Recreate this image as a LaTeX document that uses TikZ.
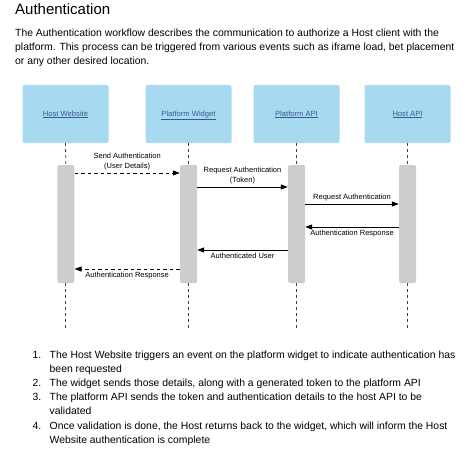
\documentclass[tikz,border=0pt]{standalone}
\usepackage{fontspec}
\setmainfont{Liberation Sans}
\usetikzlibrary{arrows.meta}
\definecolor{boxblue}{HTML}{A7D9F1}
\definecolor{labelblue}{HTML}{3B5A8C}
\definecolor{bargray}{HTML}{CDCDCD}
\begin{document}
\begin{tikzpicture}[x=1pt,y=-1pt,
  actor/.style={fill=boxblue, rounded corners=2pt, minimum width=86pt, minimum height=58pt, inner sep=0, font=\fontsize{7.6}{8}\selectfont, text=labelblue, text height=5.5pt, text depth=1.5pt},
  bar/.style={fill=bargray, rounded corners=1.5pt, minimum width=17pt, minimum height=118pt, inner sep=0},
  life/.style={draw=black!75, line width=0.8pt, dash pattern=on 3pt off 3pt},
  msg/.style={draw=black, line width=0.8pt, -{Triangle[length=7pt,width=5pt]}},
  dmsg/.style={msg, dash pattern=on 3.5pt off 3pt},
  lblup/.style={font=\fontsize{7.5}{9.5}\selectfont, inner sep=0, align=center, anchor=south, yshift=3pt},
  lbldn/.style={font=\fontsize{7.5}{9.5}\selectfont, inner sep=0, align=center, anchor=north, yshift=-2.5pt},
  body/.style={font=\fontsize{10.4}{12}\selectfont, anchor=base west, inner sep=0},
]
\useasboundingbox (0,0) rectangle (474,460);

% title and intro
\node[anchor=base west, inner sep=0, font=\fontsize{15}{18}\selectfont] (title) at (15,15) {Authentication};
\node[body] (p1) at (15,36.7) {The Authentication workflow describes the communication to authorize a Host client with the};
\node[body] (p2) at (15,50.8) {platform. This process can be triggered from various events such as iframe load, bet placement};
\node[body] (p3) at (15,65) {or any other desired location.};

% actors
\node[actor] (hw) at (65.5,114) {\underline{Host Website}};
\node[actor] (pw) at (188.5,114) {\underline{Platform Widget}};
\node[actor] (pa) at (296.5,114) {\underline{Platform API}};
\node[actor] (ha) at (407.5,114) {\underline{Host API}};

% activation bars
\node[bar] (hwbar) at (65.8,224) {};
\node[bar] (pwbar) at (188.5,224) {};
\node[bar] (pabar) at (296.5,224) {};
\node[bar] (habar) at (407.5,224) {};

% lifelines
\coordinate (bottom) at (0,328);
\foreach \a in {hw,pw,pa,ha}{
  \draw[life] (\a.south) -- (\a bar.north);
  \draw[life] (\a bar.south) -- (\a bar.south |- bottom);
}

% message levels
\coordinate (m1) at (0,173);
\coordinate (m2) at (0,187);
\coordinate (m3) at (0,204);
\coordinate (m4) at (0,227);
\coordinate (m5) at (0,250);
\coordinate (m6) at (0,269);

\draw[dmsg] (hwbar.east |- m1) -- node[lblup] {Send Authentication\\(User Details)} (pwbar.west |- m1);
\draw[msg] (pwbar.east |- m2) -- node[lblup] {Request Authentication\\(Token)} (pabar.west |- m2);
\draw[msg] (pabar.east |- m3) -- node[lblup] {Request Authentication} (habar.west |- m3);
\draw[msg] (habar.west |- m4) -- node[lbldn] {Authentication Response} (pabar.east |- m4);
\draw[msg] (pabar.west |- m5) -- node[lbldn] {Authenticated User} (pwbar.east |- m5);
\draw[dmsg] (pwbar.west |- m6) -- node[lbldn] {Authentication Response} (hwbar.east |- m6);

% numbered list
\node[body] (n1) at (32.3,358.3) {1.};
\node[body] (t1a) at (49.5,358.3) {The Host Website triggers an event on the platform widget to indicate authentication has};
\node[body] (t1b) at (49.5,372.2) {been requested};
\node[body] (n2) at (32.3,386.5) {2.};
\node[body] (t2a) at (49.5,386.5) {The widget sends those details, along with a generated token to the platform API};
\node[body] (n3) at (32.3,400.7) {3.};
\node[body] (t3a) at (49.5,400.7) {The platform API sends the token and authentication details to the host API to be};
\node[body] (t3b) at (49.5,414.7) {validated};
\node[body] (n4) at (32.3,429) {4.};
\node[body] (t4a) at (49.5,429) {Once validation is done, the Host returns back to the widget, which will inform the Host};
\node[body] (t4b) at (49.5,443.2) {Website authentication is complete};
\end{tikzpicture}
\end{document}
